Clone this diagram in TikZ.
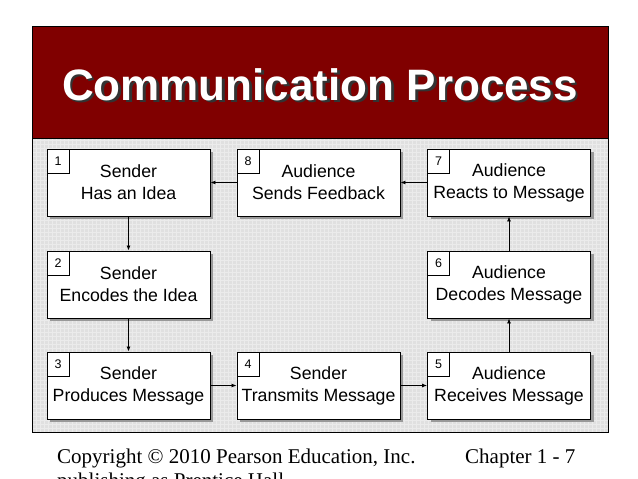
\documentclass[tikz,border=0pt]{standalone}
\usepackage{fontspec}
\setmainfont{Liberation Sans}
\newfontfamily\footerfont{Liberation Serif}
\usepackage{tikz}
\usetikzlibrary{shadows,shapes,arrows.meta}
\definecolor{titleRed}{RGB}{128,0,0}
\definecolor{panelGray}{RGB}{224,224,224}

\begin{document}
\begin{tikzpicture}[
  x=1pt, y=-1pt,
  boxStyle/.style={draw, fill=white, line width=0.9pt, minimum width=163pt, minimum height=67pt, inner sep=0pt, align=center, font=\fontsize{17.7}{22}\selectfont, drop shadow={shadow xshift=3pt, shadow yshift=-3pt, fill=black!40, opacity=1}},
  tagStyle/.style={draw, fill=white, line width=0.9pt, minimum width=22pt, minimum height=24pt, inner sep=0pt, anchor=north west, font=\fontsize{12.5}{14}\selectfont},
  arrowStyle/.style={-{Latex[length=5pt, width=4pt]}, line width=0.8pt}]

\clip (0,0) rectangle (638,479);
\fill [white] (0,0) rectangle (638,479);

% grey panel with its fine grid
\fill [panelGray] (32,138) rectangle (608,432);
\draw [white!35!panelGray, line width=0.3pt, step=4pt] (32,138) grid (608,432);

% title bar
\fill [titleRed] (32,26) rectangle (608,138);
\draw [line width=1pt] (32,26) rectangle (608,432);
\draw [line width=1pt] (32,138) -- (608,138);
\node [anchor=base, inner sep=0pt, text=black!80, font=\fontsize{44}{44}\selectfont\bfseries] (titleShadow) at (322.5,102.5) {Communication Process};
\node [anchor=base, inner sep=0pt, text=white, font=\fontsize{44}{44}\selectfont\bfseries] (title) at (320,100) {Communication Process};

% steps
\node [boxStyle] (b1) at (128.5,182.5) {Sender\\Has an Idea};
\node [boxStyle] (b2) at (128.5,284.5) {Sender\\Encodes the Idea};
\node [boxStyle] (b3) at (128.5,385.5) {Sender\\Produces Message};
\node [boxStyle] (b4) at (318.5,385.5) {Sender\\Transmits Message};
\node [boxStyle] (b5) at (509,385.5) {Audience\\Receives Message};
\node [boxStyle] (b6) at (509,284.5) {Audience\\Decodes Message};
\node [boxStyle] (b7) at (509,182.5) {Audience\\Reacts to Message};
\node [boxStyle] (b8) at (318.5,182.5) {Audience\\Sends Feedback};

\node [tagStyle] (t1) at (b1.north west) {1};
\node [tagStyle] (t2) at (b2.north west) {2};
\node [tagStyle] (t3) at (b3.north west) {3};
\node [tagStyle] (t4) at (b4.north west) {4};
\node [tagStyle] (t5) at (b5.north west) {5};
\node [tagStyle] (t6) at (b6.north west) {6};
\node [tagStyle] (t7) at (b7.north west) {7};
\node [tagStyle] (t8) at (b8.north west) {8};

\draw [arrowStyle] (b1) -- (b2);
\draw [arrowStyle] (b2) -- (b3);
\draw [arrowStyle] (b3) -- (b4);
\draw [arrowStyle] (b4) -- (b5);
\draw [arrowStyle] (b5) -- (b6);
\draw [arrowStyle] (b6) -- (b7);
\draw [arrowStyle] (b7) -- (b8);
\draw [arrowStyle] (b8) -- (b1);

% footer
\node [anchor=base west, inner sep=0pt, font=\footerfont\fontsize{21}{24}\selectfont] (copyright) at (57,463) {Copyright © 2010 Pearson Education, Inc.};
\node [anchor=base west, inner sep=0pt, font=\footerfont\fontsize{21}{24}\selectfont] (chapter) at (465,463) {Chapter 1 - 7};
\node [anchor=base west, inner sep=0pt, font=\footerfont\fontsize{21}{24}\selectfont] (publisher) at (57,487) {publishing as Prentice Hall};
\end{tikzpicture}
\end{document}
